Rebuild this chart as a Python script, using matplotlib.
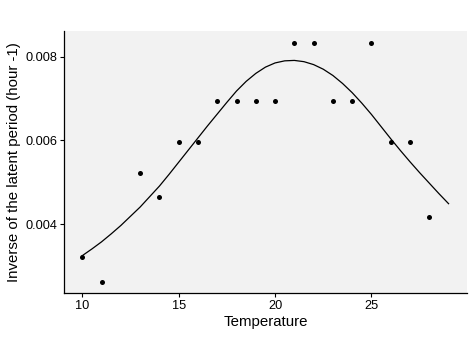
import numpy as np
import matplotlib.pyplot as plt

plt.rcParams['font.family'] = ['Liberation Sans', 'DejaVu Sans']

# observed points
temp = [10, 11, 13, 14, 15, 16, 17, 18, 19, 20, 21, 22, 23, 24, 25, 26, 27, 28]
rate = [0.003222, 0.002627, 0.005214, 0.004643, 0.005952, 0.005952, 0.006944,
        0.006944, 0.006944, 0.006944, 0.008333, 0.008333, 0.006944, 0.006944,
        0.008333, 0.005952, 0.005952, 0.004167]

# fitted curve
fit_x = [10, 10.5, 11, 11.5, 12, 12.5, 13, 13.5, 14, 14.5, 15, 15.5, 16, 16.5,
         17, 17.5, 18, 18.5, 19, 19.5, 20, 20.5, 21, 21.5, 22, 22.5, 23, 23.5,
         24, 24.5, 25, 25.5, 26, 26.5, 27, 27.5, 28, 28.5, 29]
fit_y = [0.00325, 0.00341, 0.00358, 0.00377, 0.00397, 0.00419, 0.00441,
         0.00466, 0.00491, 0.00519, 0.00548, 0.00577, 0.00606, 0.00635,
         0.00663, 0.00691, 0.00718, 0.00741, 0.00760, 0.00775, 0.00785,
         0.00790, 0.00791, 0.00788, 0.00781, 0.00770, 0.00755, 0.00736,
         0.00714, 0.00689, 0.00662, 0.00633, 0.00604, 0.00576, 0.00549,
         0.00523, 0.00498, 0.00473, 0.00449]

fig = plt.figure(figsize=(4.74, 3.38), dpi=100)
ax = fig.add_axes([0.135, 0.133, 0.850, 0.775])
ax.set_facecolor('#F2F2F2')

ax.plot(fit_x, fit_y, color='black', linewidth=0.9)
ax.scatter(temp, rate, s=13, color='black', zorder=3, linewidths=0)

ax.set_xlim(9.05, 29.95)
ax.set_ylim(0.002357, 0.00861)
ax.set_xticks([10, 15, 20, 25])
ax.set_yticks([0.004, 0.006, 0.008])
ax.set_yticklabels(['0.004', '0.006', '0.008'])

for side in ['top', 'right']:
    ax.spines[side].set_visible(False)
for side in ['left', 'bottom']:
    ax.spines[side].set_linewidth(0.9)
ax.tick_params(axis='both', length=3, width=0.8, labelsize=9.2, colors='black', pad=2)

ax.set_xlabel('Temperature', fontsize=10.8, labelpad=2)
ax.set_ylabel('Inverse of the latent period (hour -1)', fontsize=10.8, labelpad=3)

fig.savefig('out.png', dpi=100)
